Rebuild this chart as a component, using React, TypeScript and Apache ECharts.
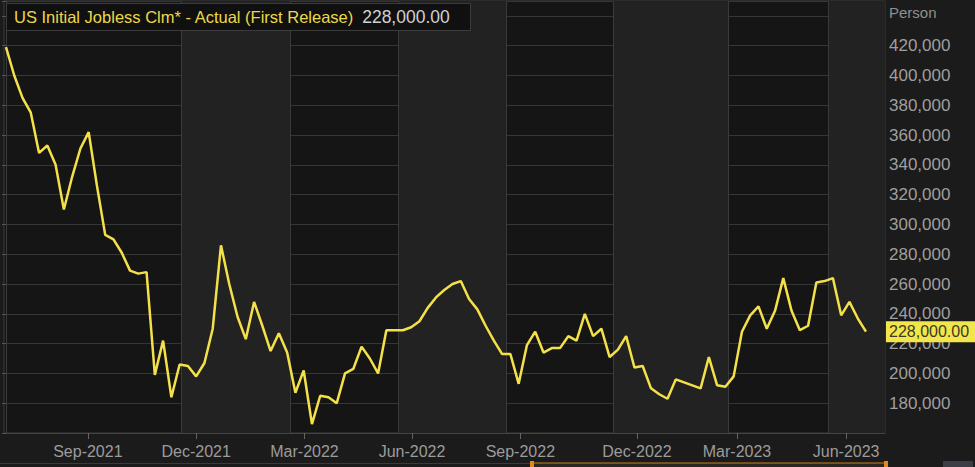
import { useEffect, useRef } from "react";
import * as echarts from "echarts";

// Weekly initial jobless claims, first release, week ending 2021-07-17 .. 2023-07-15
const seriesName = "US Initial Jobless Clm* - Actual (First Release)";
const claims = [
  419000, 400000, 385000, 375000, 348000, 353000, 340000, 310000, 332000, 351000,
  362000, 326000, 293000, 290000, 281000, 269000, 267000, 268000, 199000, 222000,
  184000, 206000, 205000, 198000, 207000, 230000, 286000, 260000, 238000, 223000,
  248000, 232000, 215000, 227000, 214000, 187000, 202000, 166000, 185000, 184000,
  180000, 200000, 203000, 218000, 210000, 200000, 229000, 229000, 229000, 231000,
  235000, 244000, 251000, 256000, 260000, 262000, 250000, 243000, 232000, 222000,
  213000, 213000, 193000, 219000, 228000, 214000, 217000, 217000, 225000, 222000,
  240000, 225000, 230000, 211000, 216000, 225000, 204000, 205000, 190000, 186000,
  183000, 196000, 194000, 192000, 190000, 211000, 192000, 191000, 198000, 228000,
  239000, 245000, 230000, 242000, 264000, 242000, 229000, 232000, 261000, 262000,
  264000, 239000, 248000, 237000, 228000,
];

// x axis in week index (0 = week ending 2021-07-17)
const xTickLabels = ["Sep-2021", "Dec-2021", "Mar-2022", "Jun-2022", "Sep-2022", "Dec-2022", "Mar-2023", "Jun-2023"];
const xTickWeeks = [9.9, 23, 36.1, 49.1, 62.2, 76.3, 88.4, 101.6];
const bandEdgeWeeks = [21.16, 34.34, 47.4, 60.46, 73.4, 87.4, 99.4];
const xMin = -0.24;
const xMax = 106.3;

const yMin = 160000;
const yMax = 450000;
const yInterval = 20000;
const yLabelMin = 180000;
const yLabelMax = 420000;
const unitLabel = "Person";

const FONT = "'Liberation Sans', Arial, sans-serif";

const fmt = (v: number) => v.toLocaleString("en-US");
const fmt2 = (v: number) =>
  v.toLocaleString("en-US", { minimumFractionDigits: 2, maximumFractionDigits: 2 });

export default function App() {
  const ref = useRef<HTMLDivElement>(null);

  useEffect(() => {
    document.body.style.margin = "0";
    document.body.style.background = "#1b1b1b";
    const chart = echarts.init(ref.current!, null, { renderer: "svg" });
    const last = claims[claims.length - 1];

    const lightBands: any[] = [];
    for (let i = 0; i < bandEdgeWeeks.length; i += 2) {
      const a = bandEdgeWeeks[i];
      const b = i + 1 < bandEdgeWeeks.length ? bandEdgeWeeks[i + 1] : xMax;
      lightBands.push([{ xAxis: a }, { xAxis: b }]);
    }

    const option: any = {
      animation: false,
      backgroundColor: "#1b1b1b",
      textStyle: { fontFamily: FONT },
      title: {
        left: 6,
        top: 3,
        padding: [5, 21, 5, 8],
        backgroundColor: "#101010",
        borderColor: "#3c3c3c",
        borderWidth: 1,
        text: `{a|${seriesName}} {b|${fmt2(last)}}`,
        textStyle: {
          fontFamily: FONT,
          fontWeight: "normal",
          rich: {
            a: { color: "#ecd94a", fontSize: 16.5, fontWeight: "normal", fontFamily: FONT, lineHeight: 18 },
            b: { color: "#cfd0d4", fontSize: 17.5, fontWeight: "normal", fontFamily: FONT, lineHeight: 18, padding: [0, 0, 0, 3] },
          },
        },
      },
      grid: {
        left: 4,
        right: 90,
        top: 1,
        bottom: 34,
        show: true,
        backgroundColor: "#151515",
        borderColor: "#3d3d3d",
        borderWidth: 1,
        outerBoundsMode: "none",
      },
      xAxis: {
        type: "value",
        min: xMin,
        max: xMax,
        axisLine: { show: true, lineStyle: { color: "#444" } },
        axisTick: {
          show: true,
          customValues: xTickWeeks,
          length: 6,
          lineStyle: { color: "#666" },
        },
        axisLabel: {
          customValues: xTickWeeks,
          color: "#9c9c9c",
          fontSize: 16,
          fontFamily: FONT,
          margin: 10,
          formatter: (v: number) => {
            const i = xTickWeeks.indexOf(v);
            return i >= 0 ? xTickLabels[i] : "";
          },
        },
        splitLine: { show: false },
      },
      yAxis: {
        type: "value",
        position: "right",
        min: yMin,
        max: yMax,
        interval: yInterval,
        axisLine: { show: true, lineStyle: { color: "#3d3d3d" } },
        axisTick: { show: true, inside: true, length: 4, lineStyle: { color: "#555" } },
        axisLabel: {
          color: "#9f9f9f",
          fontSize: 17,
          fontFamily: FONT,
          margin: 4,
          formatter: (v: number) => (v < yLabelMin || v > yLabelMax ? "" : fmt(v)),
        },
        splitLine: { show: true, lineStyle: { color: "#363636", width: 1 } },
      },
      graphic: [
        {
          type: "text",
          left: 889,
          top: 5,
          style: { text: unitLabel, fill: "#8f8f8f", fontSize: 15, fontFamily: FONT },
        },
        { type: "line", shape: { x1: 0, y1: 463.5, x2: 531, y2: 463.5 }, style: { stroke: "#3a3a3a", lineWidth: 1 } },
        {
          type: "rect",
          shape: { x: 531, y: 463, width: 356, height: 6 },
          style: { fill: "#2a2622", stroke: "#c9801f", lineWidth: 1 },
        },
        { type: "rect", shape: { x: 530, y: 461, width: 4, height: 7 }, style: { fill: "#e08a1e" } },
        { type: "rect", shape: { x: 884, y: 461, width: 4, height: 7 }, style: { fill: "#e08a1e" } },
        { type: "rect", shape: { x: 943, y: 461, width: 30, height: 8 }, style: { fill: "#3b3e45" } },
      ],
      series: [
        {
          name: seriesName,
          type: "line",
          z: 5,
          data: claims.map((v, i) => [i, v]),
          showSymbol: false,
          symbol: "none",
          lineStyle: { color: "#f4e14a", width: 2.5 },
          markArea: {
            silent: true,
            itemStyle: { color: "#222222", opacity: 1 },
            data: lightBands,
          },
          markLine: {
            silent: true,
            symbol: "none",
            data: [
              ...bandEdgeWeeks.map((w) => ({
                xAxis: w,
                lineStyle: { color: "#3a3a3a", width: 1, type: "solid" },
                label: { show: false },
              })),
              {
                yAxis: last,
                lineStyle: { color: "rgba(0,0,0,0)", width: 0 },
                label: {
                  show: true,
                  position: "end",
                  distance: 1,
                  formatter: fmt2(last),
                  backgroundColor: "#f3e64a",
                  color: "#3a382a",
                  fontSize: 16,
                  fontFamily: FONT,
                  padding: [3, 6, 2, 3],
                },
              },
            ],
          },
        },
      ],
    };

    chart.setOption(option);
    return () => chart.dispose();
  }, []);

  return <div ref={ref} style={{ width: 975, height: 467 }} />;
}
